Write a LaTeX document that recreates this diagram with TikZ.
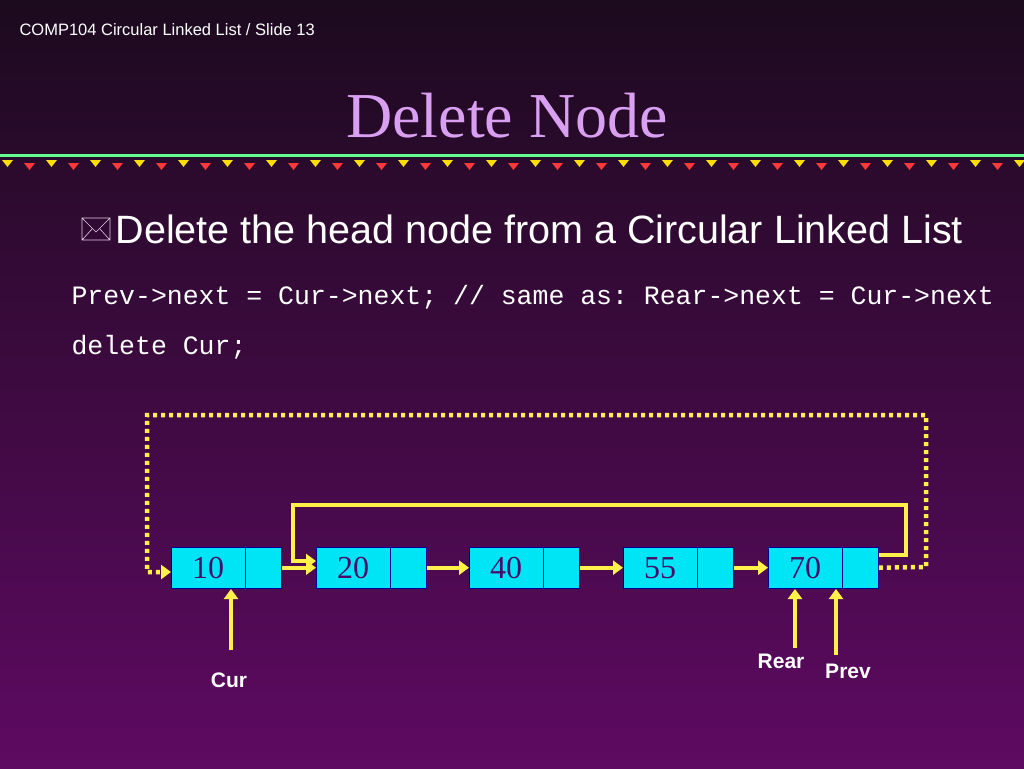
\documentclass[tikz,border=0pt]{standalone}
\usepackage{fontspec}
\setmainfont{Liberation Serif}
\setsansfont{Liberation Sans}
\setmonofont{Liberation Mono}
\usetikzlibrary{positioning,arrows.meta}
\definecolor{bgtop}{HTML}{1C0A1E}
\definecolor{bgbot}{HTML}{5E0A62}
\definecolor{titlecol}{HTML}{D9A0F2}
\definecolor{cellcol}{HTML}{00E5F5}
\definecolor{numcol}{HTML}{4A0A6A}
\definecolor{linkcol}{HTML}{FFF04A}
\tikzset{
    datacell/.style={draw=blue!60!black, fill=cellcol, minimum width=74pt, minimum height=41pt,
        inner sep=0pt, font=\fontsize{32}{32}\selectfont, text=numcol},
    ptrcell/.style={draw=blue!60!black, fill=cellcol, minimum width=36pt, minimum height=41pt, inner sep=0pt},
    link/.style={linkcol, line width=4pt, -{Triangle[length=10pt,width=14pt]}},
    dotlink/.style={link, line width=4.5pt, dash pattern=on 4pt off 4pt},
    ptrlabel/.style={text=white, font=\sffamily\bfseries\fontsize{21}{21}\selectfont}
}
\begin{document}
\begin{tikzpicture}[x=1pt, y=-1pt]
    \shade[top color=bgtop, bottom color=bgbot] (0,0) rectangle (1024,768);
    \useasboundingbox (0,0) rectangle (1024,768);

    % slide header and title
    \node[text=white, font=\sffamily\fontsize{16.5}{16.5}\selectfont, anchor=west] (hdr) at (16,30) {COMP104 Circular Linked List / Slide 13};
    \node[text=titlecol, font=\fontsize{64}{64}\selectfont] (title) at (507,116) {Delete Node};
    \draw[green!70!cyan!60!white, line width=3pt] (0,155) -- (1024,155);
    \foreach \i in {0,...,23} {
        \pgfmathsetmacro{\xx}{2+44*\i}
        \fill[yellow!80!orange] (\xx,160) -- ++(11,0) -- ++(-5.5,7) -- cycle;
        \fill[red!70!pink] (\xx+22,163) -- ++(11,0) -- ++(-5.5,7) -- cycle;
    }

    % bullet and code
    \draw[white!80!violet, line width=0.6pt] (82,218) rectangle (110,240) (82,218) -- (96,232) -- (110,218) (82,240) -- (92,229) (110,240) -- (100,229);
    \node[text=white, font=\sffamily\fontsize{39.5}{39.5}\selectfont, anchor=west] (bullet) at (112,229) {Delete the head node from a Circular Linked List};
    \node[text=white, font=\ttfamily\fontsize{26.5}{26.5}\selectfont, anchor=west] (code1) at (68,297) {Prev->next = Cur->next; // same as: Rear->next = Cur->next};
    \node[text=white, font=\ttfamily\fontsize{26.5}{26.5}\selectfont, anchor=west] (code2) at (68,347) {delete Cur;};

    % list cells
    \foreach \v/\x in {10/171, 20/316, 40/469, 55/623, 70/768} {
        \node[datacell, anchor=north west] (d\v) at (\x,547) {\v};
        \node[ptrcell, right=0pt of d\v] (p\v) {};
    }

    % links
    \draw[link] (p10.east) -- (d20.west);
    \draw[link] (p20.east) -- (d40.west);
    \draw[link] (p40.east) -- (d55.west);
    \draw[link] (p55.east) -- (d70.west);
    \draw[link] (p70.north east) ++(0,8) -- (906,555) -- (906,505) -- (293,505) -- (293,561) -- (d20.west |- 0,561);
    \draw[dotlink] (p70.east) -- (926,567) -- (926,415) -- (147,415) -- (147,572) -- (d10.west |- 0,572);

    % pointer labels
    \node[ptrlabel] (cur) at (229,680) {Cur};
    \node[ptrlabel] (rear) at (781,661) {Rear};
    \node[ptrlabel] (prev) at (848,671) {Prev};
    \draw[link] (231,650) -- (231,589);
    \draw[link] (795,648) -- (795,589);
    \draw[link] (836,655) -- (836,589);
\end{tikzpicture}
\end{document}
